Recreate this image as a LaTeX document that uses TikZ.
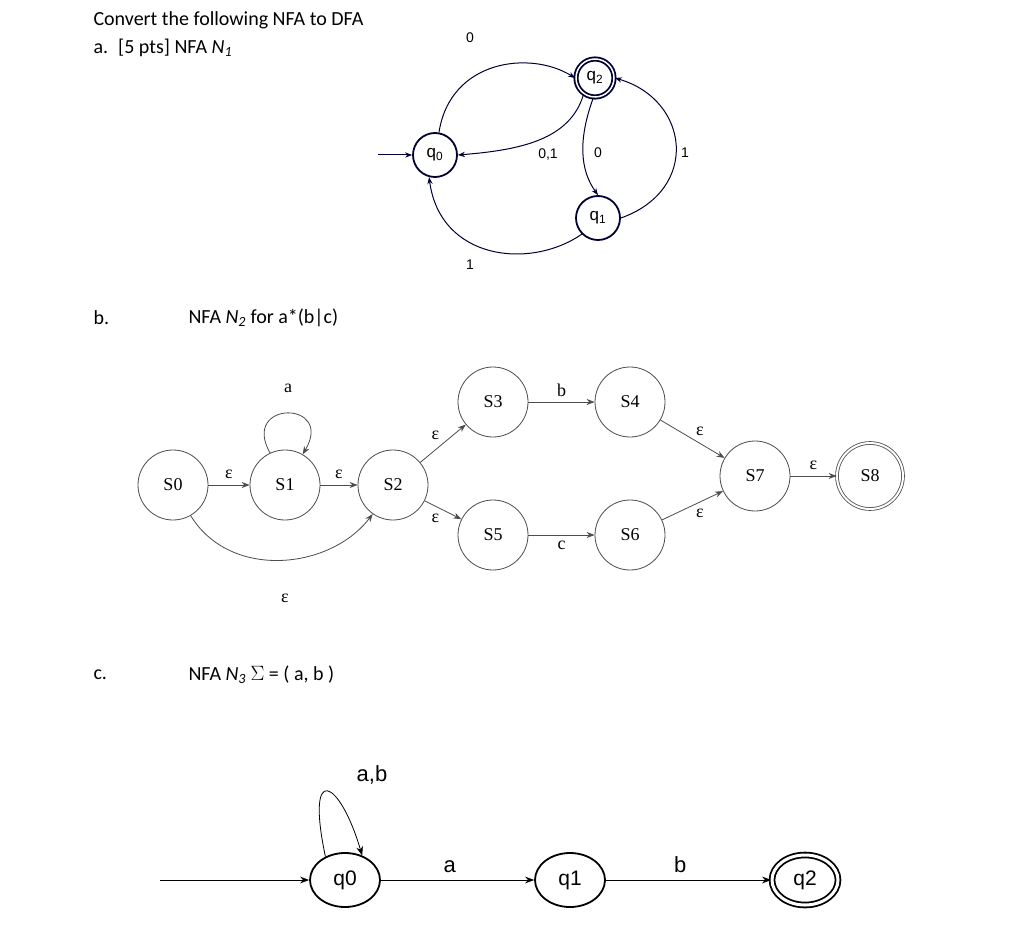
\documentclass[tikz,border=0pt]{standalone}
\usepackage{fontspec}
\setmainfont{Carlito}
\newfontfamily\arialf{Liberation Sans}
\newfontfamily\timesf{Liberation Serif}
\usetikzlibrary{arrows.meta,shapes.geometric}
\begin{document}
\begin{tikzpicture}[x=1pt,y=-1pt,
  na/.style={circle,draw=black!80!blue,line width=1.8pt,minimum size=44pt,inner sep=0pt,font=\arialf\fontsize{17}{17}\selectfont},
  nb/.style={circle,draw=black!70,line width=0.8pt,minimum size=70pt,inner sep=0pt,font=\timesf\fontsize{18}{18}\selectfont},
  nc/.style={ellipse,draw,line width=1.8pt,minimum width=70pt,minimum height=54pt,inner sep=0pt,font=\arialf\fontsize{21}{21}\selectfont},
  ea/.style={draw=black!80!blue,line width=1pt,-{Stealth[length=7pt]}},
  eb/.style={draw=black!70,line width=0.8pt,-{Stealth[length=8pt]}},
  ec/.style={draw,line width=0.8pt,-{Stealth[length=9pt]}},
  la/.style={font=\arialf\fontsize{14}{14}\selectfont},
  lb/.style={font=\timesf\fontsize{18}{18}\selectfont},
  lc/.style={font=\arialf\fontsize{22}{22}\selectfont},
  hd/.style={font=\fontsize{20}{20}\selectfont,anchor=west}]
\useasboundingbox (0,0) rectangle (1024,949);
\fill[white] (0,0) rectangle (1024,949);
% headings
\node[hd] (h0) at (90,20) {Convert the following NFA to DFA};
\node[hd] (h1) at (90,48) {a.\enspace [5 pts] NFA \textit{N\textsubscript{1}}};
\node[hd] (h2) at (90,318) {b.};
\node[hd] (h3) at (185,318) {NFA \textit{N\textsubscript{2}} for a*(b|c)};
\node[hd] (h4) at (90,675) {c.};
\node[hd] (h5) at (185,675) {NFA \textit{N\textsubscript{3}} $\Sigma$ = ( a, b )};
% part a
\node[na] (q0) at (435,155) {q\textsubscript{0}};
\node[na,double,double distance=1.5pt,minimum size=38pt] (q2) at (595,78) {q\textsubscript{2}};
\node[na] (q1) at (598,218) {q\textsubscript{1}};
\coordinate (sa) at (378,155);
\draw[ea] (sa) -- (q0);
\draw[ea] (q0.80) .. controls (450,60) and (530,50) .. (q2.west);
\draw[ea] (q2.235) .. controls (570,140) and (520,150) .. (q0.east);
\draw[ea] (q2.265) .. controls (578,140) and (580,170) .. (q1.north);
\draw[ea] (q1.east) .. controls (700,190) and (690,100) .. (q2.east);
\draw[ea] (q1.225) .. controls (530,270) and (440,260) .. (q0.255);
\node[la] (l1) at (470,38) {0};
\node[la] (l2) at (548,155) {0,1};
\node[la] (l3) at (598,153) {0};
\node[la] (l4) at (685,153) {1};
\node[la] (l5) at (470,265) {1};
% part b
\node[nb] (S0) at (173,485) {S0};
\node[nb] (S1) at (285,485) {S1};
\node[nb] (S2) at (393,485) {S2};
\node[nb] (S3) at (493,402) {S3};
\node[nb] (S4) at (630,402) {S4};
\node[nb] (S5) at (493,535) {S5};
\node[nb] (S6) at (630,535) {S6};
\node[nb] (S7) at (755,476) {S7};
\node[nb,double,double distance=2pt,minimum size=66pt] (S8) at (870,476) {S8};
\draw[eb] (S0) -- node[lb,above=3pt]{ε} (S1);
\draw[eb] (S1) -- node[lb,above=3pt]{ε} (S2);
\draw[eb] (S1.115) .. controls (240,400) and (335,400) .. (S1.60);
\node[lb] (la1) at (288,388) {a};
\draw[eb] (S0.300) .. controls (230,580) and (330,570) .. (S2.235);
\node[lb] (la2) at (285,598) {ε};
\draw[eb] (S2) -- node[lb,above left=0pt]{ε} (S3);
\draw[eb] (S2) -- node[lb,below left=0pt]{ε} (S5);
\draw[eb] (S3) -- node[lb,above=2pt]{b} (S4);
\draw[eb] (S5) -- node[lb,below=2pt]{c} (S6);
\draw[eb] (S4) -- node[lb,above right=0pt]{ε} (S7);
\draw[eb] (S6) -- node[lb,below right=0pt]{ε} (S7);
\draw[eb] (S7) -- node[lb,above=3pt]{ε} (S8);
% part c
\node[nc] (c0) at (345,880) {q0};
\node[nc] (c1) at (570,880) {q1};
\node[nc,double,double distance=3pt,minimum width=66pt,minimum height=50pt] (c2) at (805,880) {q2};
\coordinate (sc) at (160,880);
\draw[ec] (sc) -- (c0);
\draw[ec] (c0) -- node[lc,above=4pt,pos=0.45]{a} (c1);
\draw[ec] (c1) -- node[lc,above=4pt,pos=0.45]{b} (c2);
\draw[ec] (c0.130) .. controls (305,760) and (340,780) .. (c0.55);
\node[lc] (lab) at (372,775) {a,b};
\end{tikzpicture}
\end{document}
